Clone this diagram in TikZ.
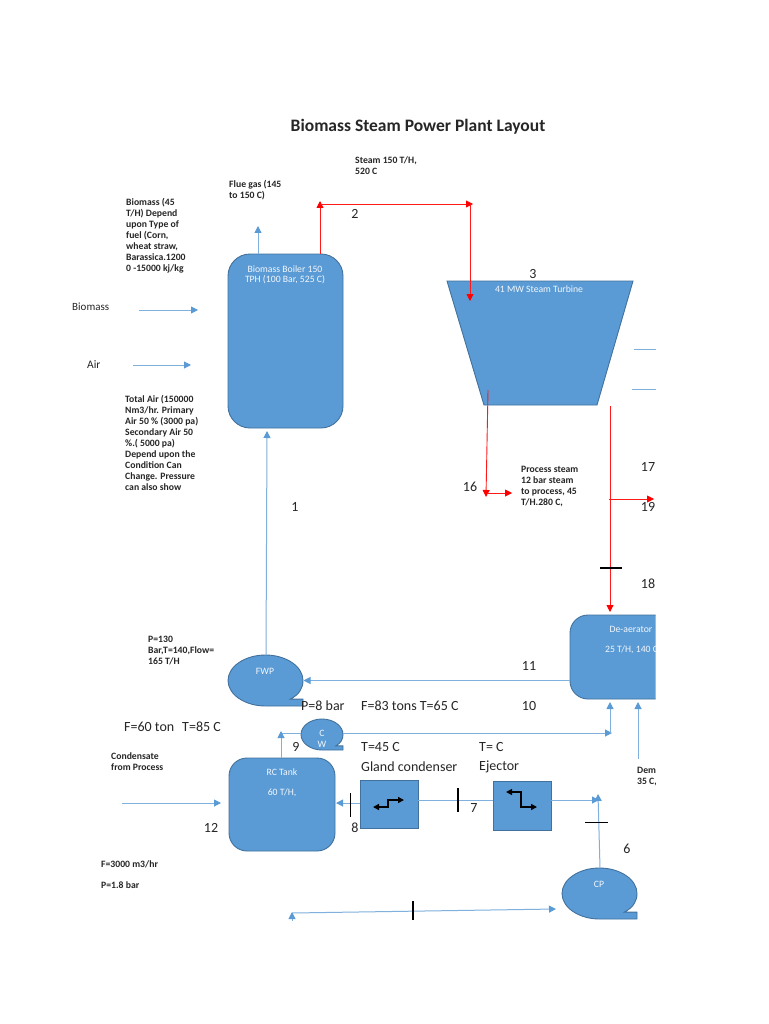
\documentclass[tikz,border=0pt]{standalone}
\usepackage{fontspec}
\setmainfont{Carlito}
\usetikzlibrary{arrows.meta}
\definecolor{fillblue}{HTML}{5B9BD5}
\definecolor{edgeblue}{HTML}{41719C}
\definecolor{linkblue}{HTML}{7FB0DE}
\definecolor{tipblue}{HTML}{5B9BD5}
\tikzset{
  unit/.style={x=1pt,y=-1pt},
  vessel/.style={draw=edgeblue,fill=fillblue,line width=0.9pt,inner sep=0pt,outer sep=0pt},
  bluearrow/.style={draw=linkblue,line width=1pt,-{Triangle[length=7pt,width=7pt,color=tipblue]}},
  blueline/.style={draw=linkblue,line width=1pt},
  redarrow/.style={draw=red!90!white,line width=0.9pt,-{Triangle[length=7pt,width=7pt,color=red]}},
  tick/.style={draw=black,line width=1pt},
  wiggle/.style={draw=black,line width=1.4pt,{Triangle[length=6pt,width=6pt]}-{Triangle[length=6pt,width=6pt]}},
  note/.style={anchor=north west,inner sep=0pt,align=left,font=\fontsize{9.7}{11}\selectfont\bfseries,text=black!85},
  inner/.style={inner sep=0pt,align=center,font=\fontsize{9.7}{10}\selectfont,text=white!92!fillblue},
  big/.style={anchor=west,inner sep=0pt,font=\fontsize{14}{15}\selectfont,text=black!85},
  num/.style={inner sep=0pt,font=\fontsize{14}{15}\selectfont,text=black!85}
}
\newcommand{\pumpbody}[4]{%
  \begin{scope}[shift={(#1,#2)},xscale=#3,yscale=#4]
    \path[vessel] (0,1) -- (1,1) -- (1,.73) -- (.66,.73)
      .. controls (.9,.55) and (1,.3) .. (1,0)
      .. controls (1,-.55) and (.55,-1) .. (0,-1)
      .. controls (-.55,-1) and (-1,-.55) .. (-1,0)
      .. controls (-1,.55) and (-.55,1) .. (0,1) -- cycle;
  \end{scope}}
\begin{document}
\begin{tikzpicture}[unit]
\useasboundingbox (0,0) rectangle (768,1024);
\fill[white] (0,0) rectangle (768,1024);

% title
\node[inner sep=0pt,font=\fontsize{17.5}{19}\selectfont\bfseries,text=black!85] (title) at (418,127) {Biomass Steam Power Plant Layout};

% vessels
\node[vessel,rounded corners=22pt,minimum width=115pt,minimum height=174pt] (boiler) at (285.5,341) {};
\node[inner] (boilertext) at (285,275) {Biomass Boiler 150\\TPH (100 Bar, 525 C)};
\path[vessel] (447,281) -- (633,281) -- (597,405) -- (484,405) -- cycle;
\coordinate (turbine) at (540,343);
\node[inner] (turbinetext) at (539,289) {41 MW Steam Turbine};
\node[vessel,rounded corners=18pt,minimum width=106pt,minimum height=93pt] (rctank) at (282,804.5) {};
\node[inner] (rctext) at (282,772) {RC Tank};
\node[inner] (rctext2) at (282,793) {60 T/H,};
\node[vessel,minimum width=58pt,minimum height=48pt] (gland) at (389,804) {};
\node[vessel,minimum width=58pt,minimum height=49pt] (ejector) at (522,805.5) {};

% de-aerator and the text cut by the page edge
\begin{scope}
  \clip (0,0) rectangle (655.5,1024);
  \node[vessel,rounded corners=18pt,minimum width=110pt,minimum height=84pt] (deaerator) at (625,657) {};
  \node[inner] (detext) at (631,629) {De-aerator};
  \node[inner,anchor=west] (detext2) at (605,650) {25 T/H, 140 C};
  \node[note] (demtext) at (637,766) {Demin water\\35 C, 50 T/H};
\end{scope}

% pumps
\pumpbody{265.5}{680.5}{37.5}{25.5}
\coordinate (fwp) at (265.5,680.5);
\node[inner] (fwptext) at (265,671) {FWP};
\pumpbody{322}{734.5}{21}{15.5}
\coordinate (cw) at (322,734.5);
\node[inner] (cwtext) at (322,733) {C};
\node[inner] (cwtext2) at (322,744) {W};
\pumpbody{599.5}{893.5}{37.5}{25.5}
\coordinate (cp) at (599.5,893.5);
\node[inner] (cptext) at (599,884) {CP};

% free ends
\coordinate (fluetip) at (258,226);
\coordinate (steamcorner) at (320,201);
\coordinate (steamleft) at (320,204);
\coordinate (steamright) at (473,204);
\coordinate (steamtop) at (470,204);
\coordinate (steamdown) at (470,301);
\coordinate (biomassa) at (139,310);
\coordinate (biomassb) at (198,310);
\coordinate (aira) at (133,365);
\coordinate (airb) at (191,365);
\coordinate (feedup) at (267,431);
\coordinate (feedlow) at (266,655);
\coordinate (extra) at (488,390);
\coordinate (extrb) at (486,497);
\coordinate (proca) at (487,493);
\coordinate (procb) at (512,493);
\coordinate (exa) at (610,406);
\coordinate (exb) at (610,612);
\coordinate (bra) at (609,499);
\coordinate (brb) at (654,499);
\coordinate (tka) at (600,568);
\coordinate (tkb) at (622,568);
\coordinate (stub1a) at (634,349);
\coordinate (stub1b) at (656,349);
\coordinate (stub2a) at (632,389);
\coordinate (stub2b) at (656,389);
\coordinate (cwleft) at (301,733);
\coordinate (cwcorner) at (281,733);
\coordinate (cwtip) at (281,731);
\coordinate (cwbase) at (281,758);
\coordinate (cwright) at (343,733);
\coordinate (cwend) at (612,733);
\coordinate (upa) at (610,733);
\coordinate (upb) at (610,702);
\coordinate (dema) at (638,759);
\coordinate (demb) at (638,702);
\coordinate (conda) at (122,803);
\coordinate (condb) at (221,803);
\coordinate (rctip) at (336,803);
\coordinate (t8a) at (350,793);
\coordinate (t8b) at (350,817);
\coordinate (t7a) at (458,788);
\coordinate (t7b) at (458,812);
\coordinate (ejout) at (599,800);
\coordinate (cptip) at (598,794);
\coordinate (t6a) at (585,822);
\coordinate (t6b) at (608,822);
\coordinate (bota) at (292,913);
\coordinate (botb) at (556,909);
\coordinate (botup) at (292,921);
\coordinate (bottip) at (292,912);
\coordinate (t5a) at (413,901);
\coordinate (t5b) at (413,920);

% blue connectors
\draw[bluearrow] (boiler.north -| fluetip) -- (fluetip);
\draw[bluearrow] (biomassa) -- (biomassb);
\draw[bluearrow] (aira) -- (airb);
\draw[bluearrow] (feedlow) -- (feedup);
\draw[blueline] (stub1a) -- (stub1b);
\draw[blueline] (stub2a) -- (stub2b);
\draw[bluearrow] (deaerator.west |- fwp) -- (303.5,680.5);
\draw[blueline] (cwleft) -- (cwcorner);
\draw[bluearrow] (cwbase) -- (cwtip);
\draw[bluearrow] (cwright) -- (cwend);
\draw[bluearrow] (upa) -- (upb);
\draw[bluearrow] (dema) -- (demb);
\draw[bluearrow] (conda) -- (condb);
\draw[bluearrow] (gland.west |- rctip) -- (rctip);
\draw[blueline] (gland.east |- ejout) -- (ejector.west |- ejout);
\draw[bluearrow] (ejector.east |- ejout) -- (ejout);
\draw[bluearrow] (600,868) -- (cptip);
\draw[bluearrow] (bota) -- (botb);
\draw[bluearrow] (botup) -- (bottip);

% red connectors
\draw[redarrow] (boiler.north -| steamcorner) -- (steamcorner);
\draw[redarrow] (steamleft) -- (steamright);
\draw[redarrow] (steamtop) -- (steamdown);
\draw[redarrow] (extra) -- (extrb);
\draw[redarrow] (proca) -- (procb);
\draw[redarrow] (exa) -- (exb);
\draw[redarrow] (bra) -- (brb);

% ticks
\draw[tick,line width=1.4pt] (tka) -- (tkb);
\draw[tick] (t8a) -- (t8b);
\draw[tick,line width=1.3pt] (t7a) -- (t7b);
\draw[tick,line width=.8pt] (t6a) -- (t6b);
\draw[tick,line width=1.3pt] (t5a) -- (t5b);

% exchanger symbols
\draw[wiggle] (373,807) -- (388,807) -- (388,800) -- (404,800);
\draw[wiggle] (506,792) -- (521,792) -- (521,807) -- (537,807);

% notes
\node[note] (steamnote) at (355,156) {Steam 150 T/H,\\520 C};
\node[note] (fluenote) at (229,180) {Flue gas (145\\to 150 C)};
\node[note] (biomassnote) at (126,198.5) {Biomass (45\\T/H) Depend\\upon Type of\\fuel (Corn,\\wheat straw,\\Barassica.1200\\0 -15000 kj/kg};
\node[note] (airnote) at (125,395.5) {Total Air (150000\\Nm3/hr. Primary\\Air 50 \% (3000 pa)\\Secondary Air 50\\\%.( 5000 pa)\\Depend upon the\\Condition Can\\Change. Pressure\\can also show};
\node[note] (procnote) at (521,466.5) {Process steam\\12 bar steam\\to process, 45\\T/H.280 C,};
\node[note] (pnote) at (148,635.5) {P=130\\Bar,T=140,Flow=\\165 T/H};
\node[note] (condnote) at (111,752.5) {Condensate\\from Process};
\node[note] (fnote) at (101,860.5) {F=3000 m3/hr};
\node[note] (p2note) at (101,881.5) {P=1.8 bar};
\node[inner sep=0pt,anchor=west,font=\fontsize{11}{12}\selectfont,text=black!85] (biomasslabel) at (72,307) {Biomass};
\node[inner sep=0pt,anchor=west,font=\fontsize{11.5}{13}\selectfont,text=black!85] (airlabel) at (87,365) {Air};

\node[big] (f60) at (124,727) {F=60 ton\hspace{8pt}T=85 C};
\node[big] (p8) at (301,706) {P=8 bar};
\node[big] (f83) at (361,706) {F=83 tons T=65 C};
\node[big] (t45) at (361,747) {T=45 C};
\node[big] (tc) at (479,747) {T= C};
\node[big] (glandlabel) at (361,767) {Gland condenser};
\node[big] (ejlabel) at (479,767) {Ejector};

% numbers
\node[num] (n1) at (295,507) {1};
\node[num] (n2) at (355,214) {2};
\node[num] (n3) at (533,274) {3};
\node[num] (n6) at (627,849) {6};
\node[num] (n7) at (474,808) {7};
\node[num] (n8) at (355,828) {8};
\node[num] (n9) at (296,747) {9};
\node[num] (n10) at (529,706) {10};
\node[num] (n11) at (529,666) {11};
\node[num] (n12) at (211,828) {12};
\node[num] (n16) at (470,487) {16};
\node[num] (n17) at (648,467) {17};
\node[num] (n18) at (648,584) {18};
\node[num] (n19) at (648,507) {19};
\end{tikzpicture}
\end{document}
